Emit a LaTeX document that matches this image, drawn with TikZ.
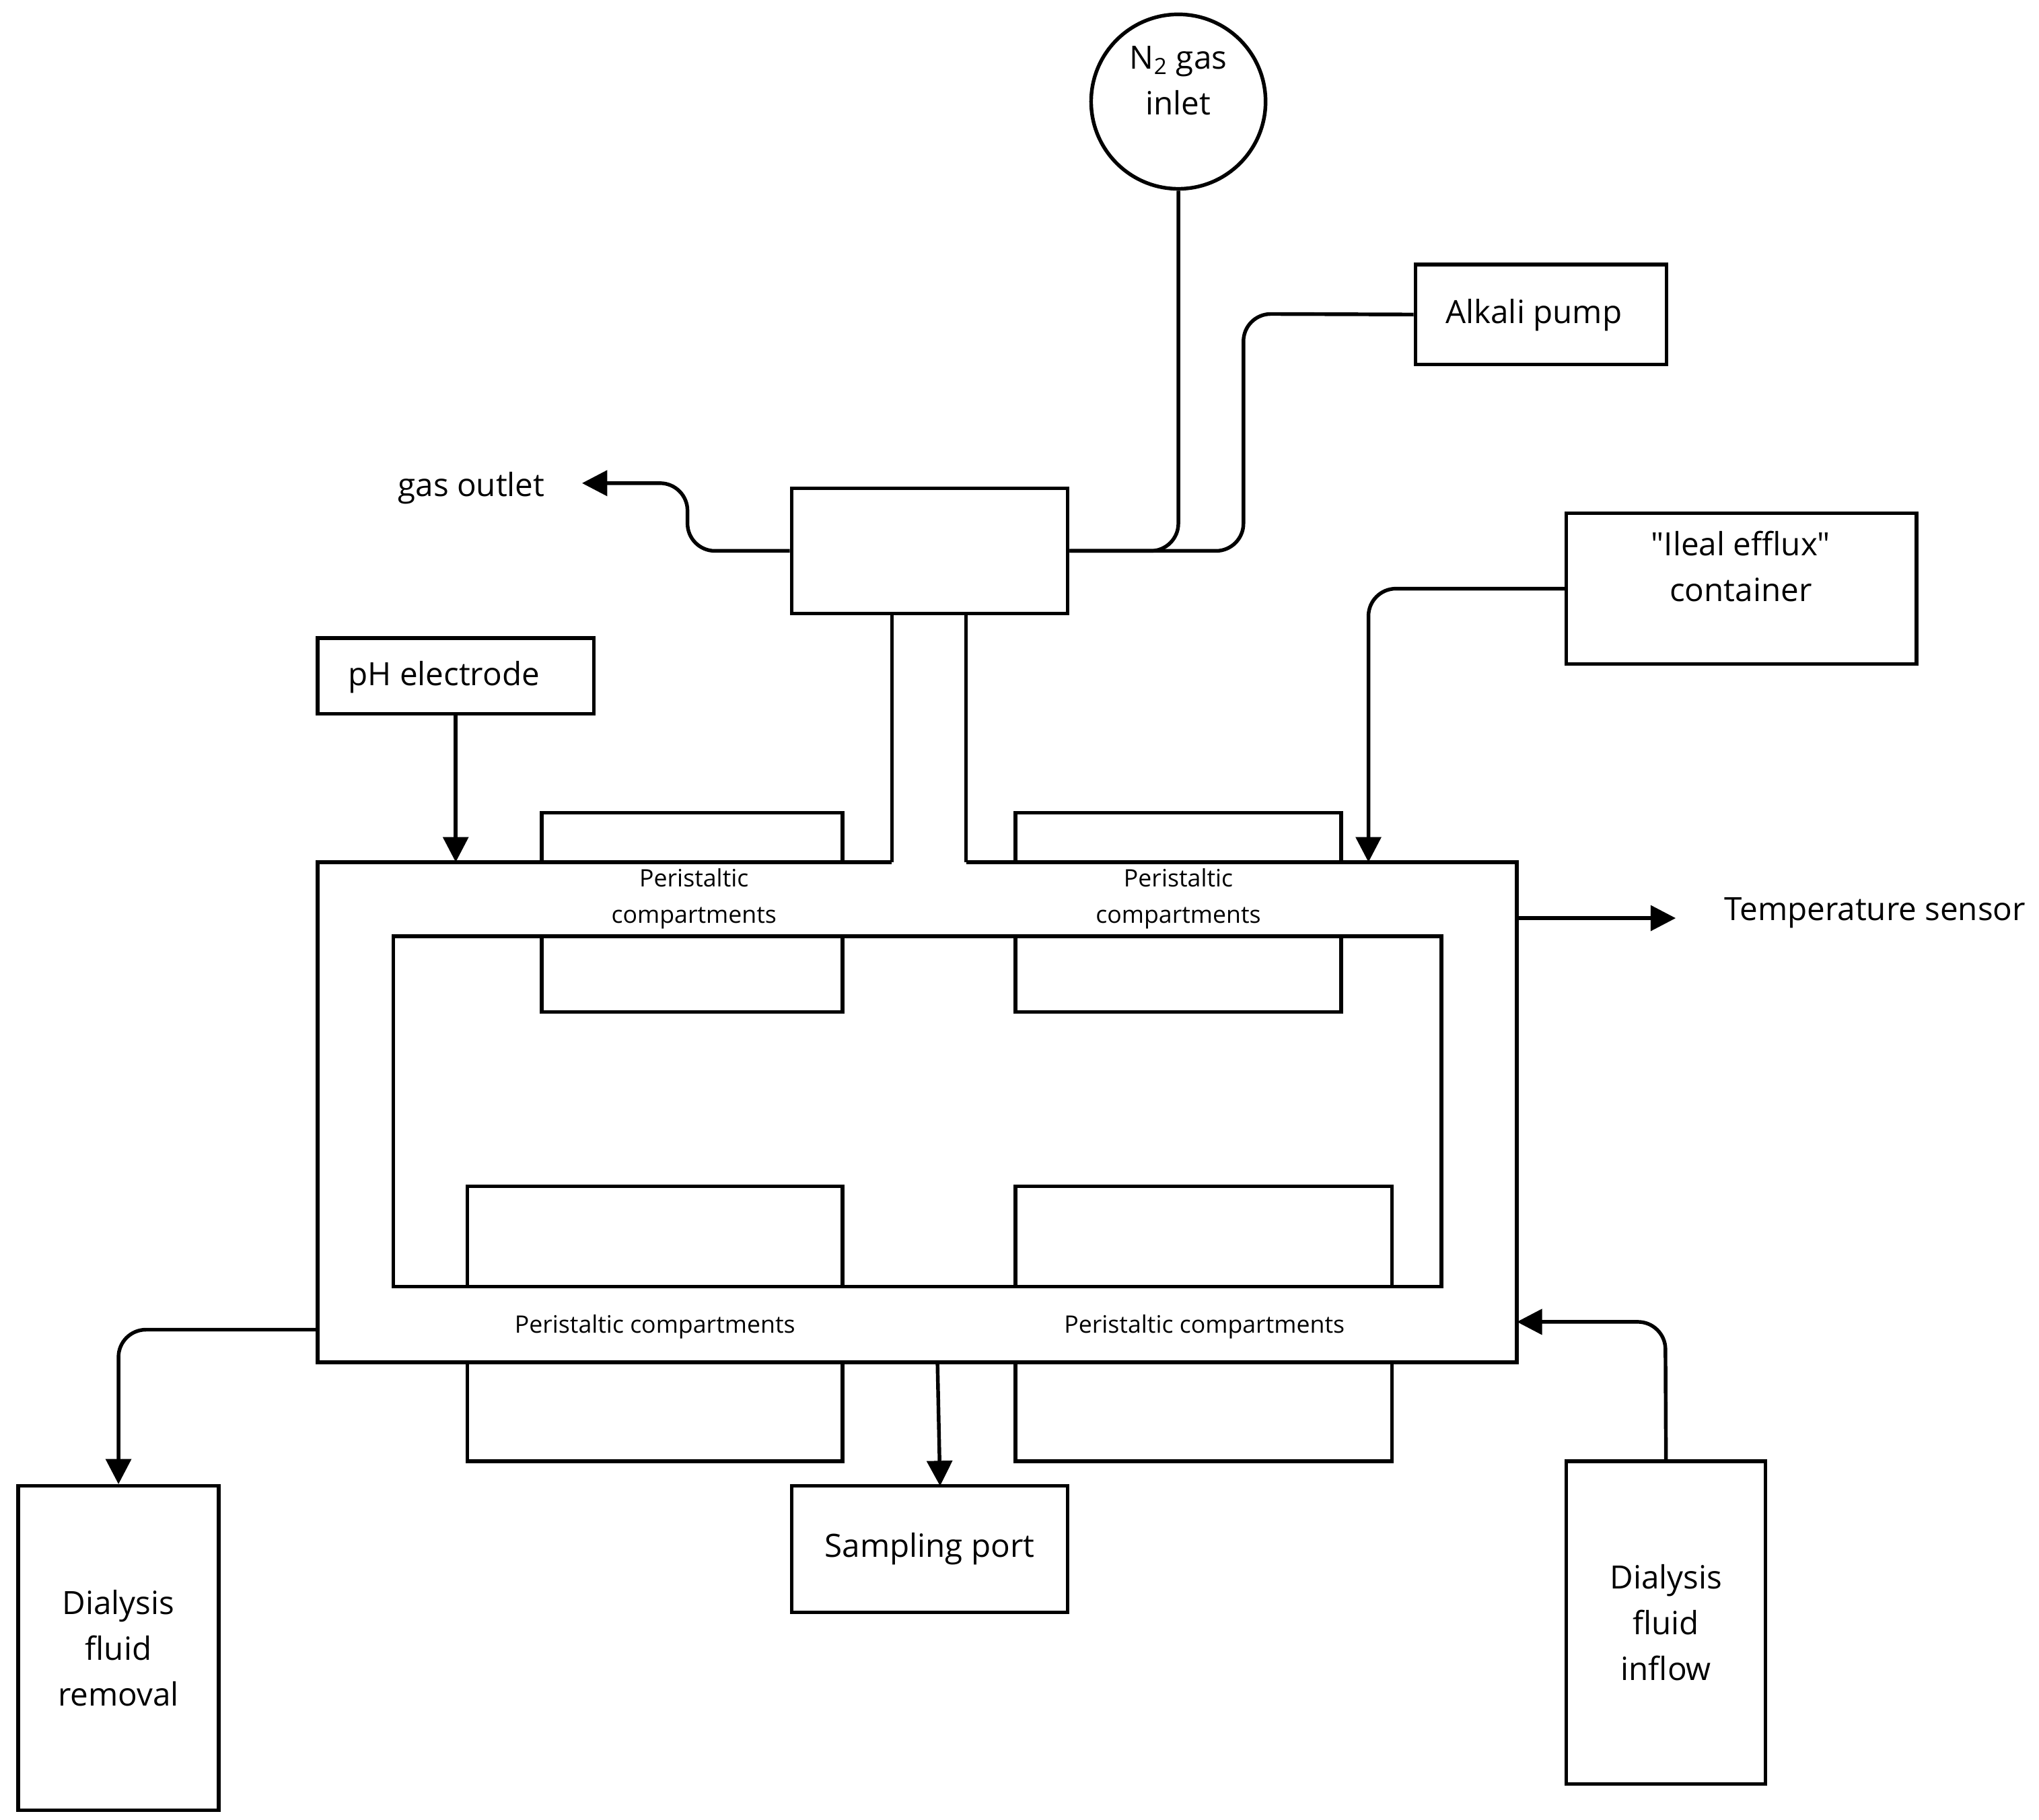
\documentclass[tikz,border=0pt]{standalone}
\usepackage{fontspec}
\setmainfont{Open Sans}
\usetikzlibrary{arrows.meta}
\begin{document}
\begin{tikzpicture}[x=0.02cm,y=-0.02cm,
  line width=1.6pt,
  box/.style={draw, rectangle, align=center, font=\fontsize{14}{20}\selectfont, inner sep=0pt},
  lbl/.style={align=center, font=\fontsize{14}{20}\selectfont},
  small/.style={align=center, font=\fontsize{10.5}{16}\selectfont},
  arr/.style={-{Triangle[length=11pt,width=11pt]}, rounded corners=12pt},
  pipe/.style={rounded corners=12pt}]
\useasboundingbox (0,0) rectangle (1566,1397);

% compartments (drawn first, hidden inside the channel)
\draw (416,624) rectangle (647,777);
\draw (780,624) rectangle (1030,777);
\draw (359,911) rectangle (647,1122);
\draw (780,911) rectangle (1069,1122);
\fill[white, even odd rule] (244,662) rectangle (1165,1046) (302,719) rectangle (1107,988);

% vessel
\coordinate (nl) at (685,662);
\coordinate (nr) at (742,662);
\draw (nl) -- (244,662) -- (244,1046) -- (1165,1046) -- (1165,662) -- (nr);
\draw (302,719) rectangle (1107,988);
\node[small] (c1) at (533,690) {Peristaltic\\compartments};
\node[small] (c2) at (905,690) {Peristaltic\\compartments};
\node[small] (c3) at (503,1019) {Peristaltic compartments};
\node[small] (c4) at (925,1019) {Peristaltic compartments};

% top box and neck
\node[box, minimum width=4.24cm, minimum height=1.92cm] (head) at (714,423) {};
\draw (685,471) -- (nl);
\draw (742,471) -- (nr);

% peripherals
\node[draw, circle, minimum size=2.68cm, inner sep=0pt] (n2) at (905,78) {};
\node[lbl] (n2t) at (905,62) {N\textsubscript{2} gas\\inlet};
\node[box, minimum width=3.86cm, minimum height=1.54cm] (pump) at (1183.5,241.5) {};
\node[lbl] (pumpt) at (1178,242) {Alkali pump};
\node[box, minimum width=5.38cm, minimum height=2.32cm] (ileal) at (1337.5,452) {};
\node[lbl] (ilealt) at (1337,435) {\textquotedbl Ileal efflux\textquotedbl\\container};
\node[box, minimum width=4.24cm, minimum height=1.16cm] (ph) at (350,519) {};
\node[lbl] (pht) at (341,520) {pH electrode};
\node[box, minimum width=3.08cm, minimum height=4.98cm] (rem) at (91,1265.5) {Dialysis\\fluid\\removal};
\node[box, minimum width=4.24cm, minimum height=1.94cm] (samp) at (714,1189.5) {Sampling port};
\node[box, minimum width=3.06cm, minimum height=4.96cm] (inf) at (1279.5,1246) {Dialysis\\fluid\\inflow};
\node[lbl] (gas) at (362,375) {gas outlet};
\node[lbl] (temp) at (1440,701) {Temperature sensor};

% connectors
\coordinate (gastip) at (447,371);
\coordinate (temptip) at (1287,705);
\draw[arr] (head.west) -- (528,423) -- (528,371) -- (gastip);
\draw[pipe] (n2.south) -- (905,423) -- (head.east);
\draw[pipe] (pump.west) -- (955,241) -- (955,423) -- (head.east);
\draw[arr] (ileal.west |- 0,452) -- (1051,452) -- (1051,662);
\draw[arr] (ph.south) -- (350,662);
\draw[arr] (1165,705) -- (temptip);
\draw[arr] (244,1021) -- (91,1021) -- (rem.north);
\draw[arr] (720,1046) -- (722,1141);
\draw[arr] (inf.north) -- (1279,1015) -- (1165,1015);
\end{tikzpicture}
\end{document}
